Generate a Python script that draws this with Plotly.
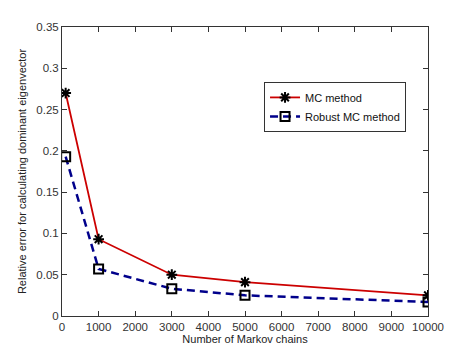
import plotly.graph_objects as go

chains = [100, 1000, 3000, 5000, 10000]
mc_error = [0.270, 0.093, 0.050, 0.041, 0.025]
robust_error = [0.193, 0.057, 0.033, 0.025, 0.017]

x_ticks = [0, 1000, 2000, 3000, 4000, 5000, 6000, 7000, 8000, 9000, 10000]
y_ticks = [0, 0.05, 0.1, 0.15, 0.2, 0.25, 0.3, 0.35]
y_labels = ["0", "0.05", "0.1", "0.15", "0.2", "0.25", "0.3", "0.35"]

fig = go.Figure()
fig.add_trace(go.Scatter(
    x=chains, y=mc_error, name="MC method", mode="lines+markers",
    line=dict(color="#cc0000", width=1.8),
    marker=dict(symbol="asterisk-open", size=9, color="black",
                line=dict(color="black", width=2)),
))
fig.add_trace(go.Scatter(
    x=chains, y=robust_error, name="Robust MC method", mode="lines+markers",
    line=dict(color="#00008b", width=2.5, dash="8px,5px"),
    marker=dict(symbol="square-open", size=9, color="black",
                line=dict(color="black", width=2)),
))

axis_common = dict(
    showgrid=False, zeroline=False, showline=True, linecolor="#333333",
    linewidth=1, mirror="ticks", ticks="inside", ticklen=5,
    tickcolor="#333333", tickfont=dict(family="Liberation Sans, Arial", size=11.5, color="#333333"),
)
fig.update_xaxes(range=[0, 10000], tickvals=x_ticks,
                 ticktext=[str(v) for v in x_ticks],
                 title=dict(text="Number of Markov chains", standoff=0,
                            font=dict(family="Liberation Sans, Arial", size=11, color="#222222")),
                 **axis_common)
fig.update_yaxes(range=[0, 0.35], tickvals=y_ticks, ticktext=y_labels,
                 title=dict(text="Relative error for calculating dominant eigenvector", standoff=7,
                            font=dict(family="Liberation Sans, Arial", size=11, color="#222222")),
                 **axis_common)

fig.update_layout(
    width=474, height=355,
    margin=dict(l=54, r=54, t=19, b=47),
    plot_bgcolor="white", paper_bgcolor="white",
    showlegend=True,
    legend=dict(x=0.552, y=0.81, xanchor="left", yanchor="top",
                bgcolor="white", bordercolor="#333333", borderwidth=1,
                font=dict(family="Liberation Sans, Arial", size=11, color="#111111"),
                tracegroupgap=0, itemwidth=30),
)

fig.write_html("out.html")
